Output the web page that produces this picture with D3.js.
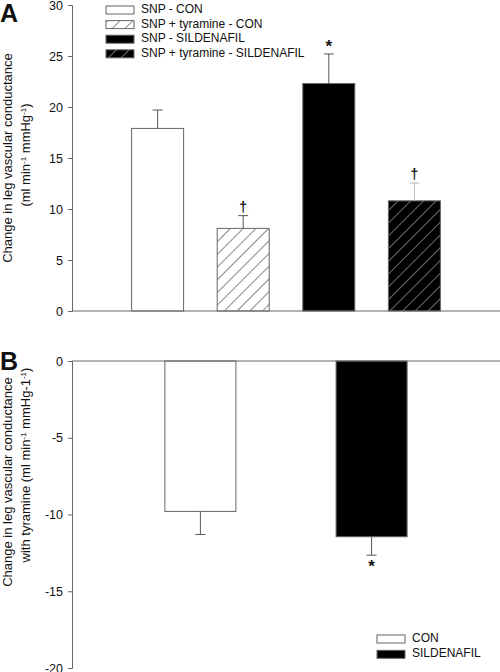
<!DOCTYPE html>
<html>
<head>
<meta charset="utf-8">
<script src="https://cdn.jsdelivr.net/npm/d3@7"></script>
<style>
  body { margin: 0; background: #fff; }
  text { font-family: "Liberation Sans", Arial, sans-serif; fill: #111; }
</style>
</head>
<body>
<svg width="500" height="672"></svg>
<script>
// Panel A data
var groupsA = ["SNP - CON", "SNP + tyramine - CON", "SNP - SILDENAFIL", "SNP + tyramine - SILDENAFIL"];
var meansA = [17.9, 8.1, 22.3, 10.8];
var semA = [1.8, 1.25, 2.9, 1.75];
var marksA = ["", "\u2020", "*", "\u2020"];
var ticksA = [0, 5, 10, 15, 20, 25, 30];

// Panel B data
var groupsB = ["CON", "SILDENAFIL"];
var meansB = [-9.8, -11.45];
var semB = [1.5, 1.2];
var marksB = ["", "*"];
var ticksB = [0, -5, -10, -15, -20];

var svg = d3.select("svg"),
    width = +svg.attr("width"),
    height = +svg.attr("height");

var axisColor = "#666";

// hatch patterns
var defs = svg.append("defs");
function hatch(id, bg, line) {
  var p = defs.append("pattern")
    .attr("id", id)
    .attr("patternUnits", "userSpaceOnUse")
    .attr("width", 9).attr("height", 9)
    .attr("patternTransform", "rotate(45)");
  p.append("rect").attr("width", 9).attr("height", 9).attr("fill", bg);
  p.append("line").attr("x1", 0).attr("y1", 0).attr("x2", 0).attr("y2", 9)
    .attr("stroke", line).attr("stroke-width", 1.4);
}
hatch("hatchWhite", "#fff", "#555");
hatch("hatchBlack", "#000", "#999");

var fillsA = ["#fff", "url(#hatchWhite)", "#000", "url(#hatchBlack)"];
var errColA = ["#555", "#555", "#555", "#bbb"];
var fillsB = ["#fff", "#000"];

// plain hyphen for negatives, like the original
var fmt = function(d){ return String(d) };

// shared x position: 5 slots from the y axis to the right edge
var x = d3.scaleLinear().domain([0, 5]).range([72, 500]);

function styleAxis(g) {
  g.select(".domain").attr("stroke", axisColor);
  g.selectAll(".tick line").attr("stroke", axisColor);
  g.selectAll(".tick text").style("font-size", "12.5px").attr("fill", "#222");
}

// ---------- Panel A ----------
var yA = d3.scaleLinear().domain([0, 30]).range([311, 5]);

var gA = svg.append("g");
gA.append("g")
  .attr("transform", "translate(72,0)")
  .call(d3.axisLeft(yA).tickValues(ticksA).tickFormat(fmt).tickSize(4).tickPadding(5))
  .call(styleAxis);

// bars
var bwA = 52;
gA.selectAll("rect.bar")
  .data(meansA)
  .enter()
  .append("rect")
    .attr("class", "bar")
    .attr("x", function(d, i){ return x(i + 1) - bwA / 2 })
    .attr("y", function(d){ return yA(d) })
    .attr("width", bwA)
    .attr("height", function(d){ return yA(0) - yA(d) })
    .attr("fill", function(d, i){ return fillsA[i] })
    .attr("stroke", "#666")
    .attr("stroke-width", 1);

// error bars
meansA.forEach(function(m, i){
  var cx = x(i + 1), top = yA(m + semA[i]);
  gA.append("line").attr("x1", cx).attr("x2", cx).attr("y1", yA(m)).attr("y2", top)
    .attr("stroke", errColA[i]).attr("stroke-width", 1);
  gA.append("line").attr("x1", cx - 5).attr("x2", cx + 5).attr("y1", top).attr("y2", top)
    .attr("stroke", errColA[i]).attr("stroke-width", 1);
  if (marksA[i]) {
    gA.append("text")
      .attr("x", cx).attr("y", top - (marksA[i] == "*" ? 2 : 4))
      .attr("text-anchor", "middle")
      .style("font-size", marksA[i] == "*" ? "17px" : "14px")
      .style("font-weight", "bold")
      .text(marksA[i]);
  }
});

// x axis line (zero)
gA.append("line").attr("x1", 72).attr("x2", 500).attr("y1", yA(0)).attr("y2", yA(0))
  .attr("stroke", axisColor);

// legend A
groupsA.forEach(function(name, i){
  var ly = 10 + i * 14.6;
  gA.append("rect").attr("x", 106).attr("y", ly - 4).attr("width", 28).attr("height", 8)
    .attr("fill", fillsA[i]).attr("stroke", "#666");
  gA.append("text").attr("x", 141).attr("y", ly).attr("dominant-baseline", "middle")
    .style("font-size", "12px").text(name);
});

// panel label and y title
svg.append("text").attr("x", 0).attr("y", 22).style("font-size", "25px").style("font-weight", "bold").text("A");

function yTitle(cx, cy, parts) {
  var t = svg.append("text")
    .attr("transform", "translate(" + cx + "," + cy + ") rotate(-90)")
    .attr("text-anchor", "middle")
    .style("font-size", "13px");
  parts.forEach(function(p){
    var ts = t.append("tspan").text(p.t);
    if (p.sup) ts.attr("baseline-shift", "super").style("font-size", "8px");
  });
  return t;
}
yTitle(12, 158, [{t: "Change in leg vascular conductance"}]);
yTitle(30, 155, [{t: "(ml min"}, {t: "-1", sup: true}, {t: "  mmHg"}, {t: "-1", sup: true}, {t: ")"}]);

// ---------- Panel B ----------
var yB = d3.scaleLinear().domain([-20, 0]).range([668, 361]);

var gB = svg.append("g");
gB.append("g")
  .attr("transform", "translate(72,0)")
  .call(d3.axisLeft(yB).tickValues(ticksB).tickFormat(fmt).tickSize(4).tickPadding(5))
  .call(styleAxis);

var bwB = 71;
gB.selectAll("rect.bar")
  .data(meansB)
  .enter()
  .append("rect")
    .attr("class", "bar")
    .attr("x", function(d, i){ return x(2 * i + 1.5) - bwB / 2 })
    .attr("y", yB(0))
    .attr("width", bwB)
    .attr("height", function(d){ return yB(d) - yB(0) })
    .attr("fill", function(d, i){ return fillsB[i] })
    .attr("stroke", "#666")
    .attr("stroke-width", 1);

meansB.forEach(function(m, i){
  var cx = x(2 * i + 1.5), bot = yB(m - semB[i]);
  gB.append("line").attr("x1", cx).attr("x2", cx).attr("y1", yB(m)).attr("y2", bot)
    .attr("stroke", "#555");
  gB.append("line").attr("x1", cx - 5).attr("x2", cx + 5).attr("y1", bot).attr("y2", bot)
    .attr("stroke", "#555");
  if (marksB[i]) {
    gB.append("text").attr("x", cx).attr("y", bot + 17)
      .attr("text-anchor", "middle")
      .style("font-size", "17px").style("font-weight", "bold")
      .text(marksB[i]);
  }
});

gB.append("line").attr("x1", 72).attr("x2", 500).attr("y1", yB(0)).attr("y2", yB(0))
  .attr("stroke", axisColor);

// legend B
groupsB.forEach(function(name, i){
  var ly = 639 + i * 15.3;
  gB.append("rect").attr("x", 377).attr("y", ly - 4).attr("width", 28).attr("height", 8)
    .attr("fill", fillsB[i]).attr("stroke", "#666");
  gB.append("text").attr("x", 412).attr("y", ly).attr("dominant-baseline", "middle")
    .style("font-size", "12px").text(name);
});

svg.append("text").attr("x", 0).attr("y", 370).style("font-size", "25px").style("font-weight", "bold").text("B");

yTitle(12, 482, [{t: "Change in leg vascular conductance"}]);
yTitle(30, 465, [{t: "with tyramine (ml min"}, {t: "-1", sup: true}, {t: "  mmHg-1"}, {t: "-1", sup: true}, {t: ")"}]);
</script>
</body>
</html>
